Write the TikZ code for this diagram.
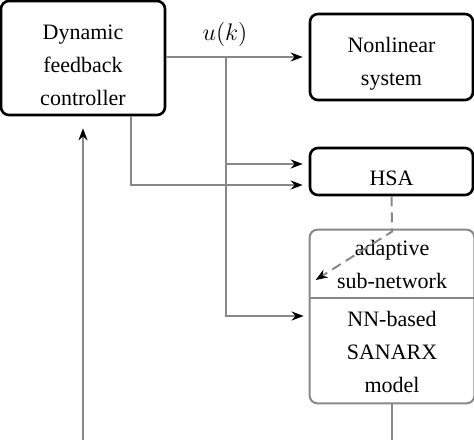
\documentclass[tikz,border=0pt]{standalone}
\usepackage{fontspec}
\setmainfont{Liberation Serif}
\usetikzlibrary{positioning}
\usetikzlibrary{calc}
\usetikzlibrary{arrows.meta}
\definecolor{linegray}{RGB}{136,136,136}

\begin{document}
\begin{tikzpicture}[x=0.5pt, y=-0.5pt,
                font=\fontsize{11}{16.5}\selectfont,
                blacksquarednode/.style={rectangle, rounded corners=4pt, draw=black, line width=1.3pt, align=center, inner sep=0pt},
                graysquarednode/.style={rectangle, align=center, inner sep=0pt},
                flow/.style={draw=linegray, line width=1pt, -{Stealth[black, length=6pt, width=4.5pt]}, shorten >=3pt},
                dashflow/.style={flow, dash pattern=on 5pt off 3pt},
                ]
                \useasboundingbox (0,0) rectangle (474,440);
                \clip (0,0) rectangle (474,440);

                \node[blacksquarednode, minimum width=82pt, minimum height=57pt, text height=47pt, text depth=0pt] (ctrl) at (83,58) {Dynamic\\feedback\\controller};
                \node[blacksquarednode, minimum width=81.5pt, minimum height=43pt, text height=28pt, text depth=0pt] (nonlin) at (391.5,57) {Nonlinear\\system};
                \node[blacksquarednode, minimum width=81.5pt, minimum height=23.5pt, text height=13.5pt, text depth=0pt] (hsa) at (391.5,171.5) {HSA};
                \node[graysquarednode, minimum width=82pt, minimum height=34pt, text height=24pt, text depth=0pt] (sub) at (392,264) {adaptive\\sub-network};
                \node[graysquarednode, minimum width=82pt, minimum height=52.5pt, text height=41.5pt, text depth=0pt] (nnm) at (392,350.5) {NN-based\\SANARX\\model};

                \draw[rounded corners=4pt, draw=linegray, line width=1pt] (sub.north west) rectangle (nnm.south east);
                \draw[draw=linegray, line width=1pt] (sub.south west) -- (sub.south east);

                \coordinate (uk) at (226,57);
                \node[font=\fontsize{13}{15}\selectfont] (uklabel) at (225,34) {$u(k)$};
                \coordinate (fbk) at (83,440);
                \coordinate (out) at (nnm.south |- fbk);

                \draw[flow] (ctrl.east |- uk) -- (uk -| nonlin.west);
                \draw[flow] (uk) |- ($(nnm.west)+(0,-34.5)$);
                \draw[flow] (uk |- hsa.west) ++(0,-7.5) -- ($(hsa.west)+(0,-7.5)$);
                \draw[flow] ($(ctrl.south)+(48,0)$) |- ($(hsa.west)+(0,13.5)$);
                \draw[dashflow, shorten >=0pt] (hsa.south) -- ($(sub.north)+(0,2)$) -- ($(sub.west)+(6,16)$);
                \draw[draw=linegray, line width=1pt] (nnm.south) -- (out);
                \draw[flow, shorten >=6pt] (fbk) -- (ctrl.south);
            \end{tikzpicture}
\end{document}
